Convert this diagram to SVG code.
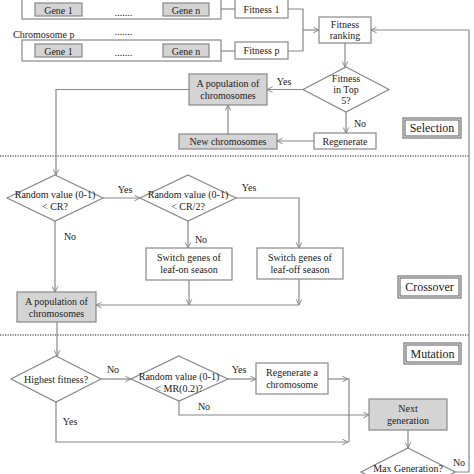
<svg xmlns="http://www.w3.org/2000/svg" width="474" height="474" viewBox="0 0 474 474">
<defs>
<marker id="ah" viewBox="0 0 10 10" refX="9" refY="5" markerWidth="7" markerHeight="7" orient="auto" markerUnits="userSpaceOnUse">
<polyline points="1,1 9,5 1,9" fill="none" stroke="#888" stroke-width="1.4"/>
</marker>
<style>
text{font-family:"Liberation Serif","Times New Roman",serif;font-size:10px;fill:#222;text-anchor:middle}
.box{fill:#fff;stroke:#888;stroke-width:1.2}
.gbox{fill:#d4d4d4;stroke:#888;stroke-width:1.2}
.ln{fill:none;stroke:#888;stroke-width:1.2}
.ar{fill:none;stroke:#888;stroke-width:1.2;marker-end:url(#ah)}
.dot{stroke:#666;stroke-width:1.6;stroke-dasharray:1.2 1.3}
.lab{fill:#fff;stroke:#555;stroke-width:1}
.big{font-size:12px}
.lt{text-anchor:start}
</style>
</defs>
<rect width="474" height="474" fill="#fff"/>

<g id="separators">
<line class="dot" x1="0" y1="156" x2="469" y2="156"/>
<line class="dot" x1="0" y1="335" x2="469" y2="335"/>
</g>

<g id="chromosome1">
<rect class="box" x="22" y="-10" width="199" height="29"/>
<rect class="gbox" x="35" y="3" width="47" height="13"/>
<text x="58.5" y="13.5">Gene 1</text>
<text x="123.5" y="16">.......</text>
<rect class="gbox" x="163" y="3" width="46" height="13"/>
<text x="186" y="13.5">Gene n</text>
</g>
<g id="chromosomep">
<text class="lt" x="13" y="38">Chromosome p</text>
<text x="123.5" y="35">.......</text>
<rect class="box" x="22" y="40" width="199" height="21"/>
<rect class="gbox" x="35" y="44" width="47" height="13"/>
<text x="58.5" y="54.5">Gene 1</text>
<text x="123.5" y="56">.......</text>
<rect class="gbox" x="163" y="44" width="46" height="13"/>
<text x="186" y="54.5">Gene n</text>
</g>
<g id="fitness1">
<rect class="box" x="235" y="-1" width="53" height="19"/>
<text x="261.5" y="13">Fitness 1</text>
</g>
<g id="fitnessp">
<rect class="box" x="235" y="42" width="53" height="17"/>
<text x="261.5" y="54">Fitness p</text>
</g>
<g id="ranking">
<rect class="box" x="319" y="17" width="52" height="26"/>
<text x="345" y="28">Fitness</text>
<text x="345" y="39">ranking</text>
</g>
<g id="top5">
<polygon class="box" points="346,67 389,89.5 346,112 303,89.5"/>
<text x="346" y="82">Fitness</text>
<text x="346" y="93">in Top</text>
<text x="346" y="104">5?</text>
</g>
<g id="pop1">
<rect class="gbox" x="189" y="74" width="78" height="31"/>
<text x="228" y="87">A population of</text>
<text x="228" y="99">chromosomes</text>
</g>
<g id="newchrom">
<rect class="gbox" x="179" y="134" width="98" height="15"/>
<text x="228" y="145">New chromosomes</text>
</g>
<g id="regenerate">
<rect class="box" x="314" y="133" width="62" height="16"/>
<text x="345" y="144.5">Regenerate</text>
</g>
<g id="selection">
<rect class="lab" x="403" y="118" width="58" height="20"/>
<rect class="lab" x="405" y="120" width="54" height="16"/>
<text class="big" x="432" y="132">Selection</text>
</g>

<g id="cr">
<polygon class="box" points="55,175 103,198 55,221 7,198"/>
<text x="55" y="198">Random value (0-1)</text>
<text x="55" y="210">&lt; CR?</text>
</g>
<g id="cr2">
<polygon class="box" points="188,175 236,198 188,221 140,198"/>
<text x="188" y="198">Random value (0-1)</text>
<text x="188" y="210">&lt; CR/2?</text>
</g>
<g id="leafon">
<rect class="box" x="146" y="248" width="86" height="32"/>
<text x="189" y="261">Switch genes of</text>
<text x="189" y="273">leaf-on season</text>
</g>
<g id="leafoff">
<rect class="box" x="257" y="248" width="86" height="31"/>
<text x="300" y="261">Switch genes of</text>
<text x="300" y="273">leaf-off season</text>
</g>
<g id="pop2">
<rect class="gbox" x="17" y="292" width="79" height="30"/>
<text x="56.5" y="305">A population of</text>
<text x="56.5" y="317">chromosomes</text>
</g>
<g id="crossover">
<rect class="lab" x="398" y="276" width="63" height="22"/>
<rect class="lab" x="400" y="278" width="59" height="18"/>
<text class="big" x="429.5" y="291">Crossover</text>
</g>

<g id="highest">
<polygon class="box" points="56,356 101,379 56,402 11,379"/>
<text x="56" y="383">Highest fitness?</text>
</g>
<g id="mr">
<polygon class="box" points="179,356 228,379 179,401 131,379"/>
<text x="179" y="380">Random value (0-1)</text>
<text x="179" y="392">&lt; MR(0.2)?</text>
</g>
<g id="regenchrom">
<rect class="box" x="256" y="363" width="72" height="31"/>
<text x="292" y="376">Regenerate a</text>
<text x="292" y="388">chromosome</text>
</g>
<g id="nextgen">
<rect class="gbox" x="369" y="399" width="78" height="31"/>
<text x="408" y="412">Next</text>
<text x="408" y="424">generation</text>
</g>
<g id="maxgen">
<polygon class="box" points="408,448 455,472 408,496 361,472"/>
<text x="408" y="472">Max Generation?</text>
</g>
<g id="mutation">
<rect class="lab" x="404" y="343" width="57" height="21"/>
<rect class="lab" x="406" y="345" width="53" height="17"/>
<text class="big" x="432.5" y="358">Mutation</text>
</g>

<g id="connectors">
<line class="ln" x1="221" y1="9" x2="235" y2="9"/>
<line class="ln" x1="221" y1="51" x2="235" y2="51"/>
<polyline class="ln" points="288,9 303,9 303,51 288,51"/>
<line class="ar" x1="303" y1="30" x2="319" y2="30"/>
<line class="ar" x1="345" y1="43" x2="345" y2="67"/>
<line class="ar" x1="303" y1="89.5" x2="267" y2="89.5"/>
<line class="ar" x1="346" y1="112" x2="346" y2="133"/>
<line class="ar" x1="314" y1="141" x2="277" y2="141"/>
<line class="ar" x1="228" y1="134" x2="228" y2="105"/>
<polyline class="ar" points="189,89.5 56,89.5 56,175"/>
<polyline class="ar" points="455,472 469,472 469,30 371,30"/>
<line class="ar" x1="103" y1="198" x2="140" y2="198"/>
<line class="ar" x1="188" y1="221" x2="188" y2="248"/>
<polyline class="ar" points="236,198 299,198 299,248"/>
<line class="ar" x1="189" y1="280" x2="189" y2="305"/>
<line class="ar" x1="299" y1="279" x2="299" y2="305"/>
<line class="ar" x1="299" y1="305" x2="96" y2="305"/>
<line class="ar" x1="55" y1="221" x2="55" y2="292"/>
<line class="ar" x1="57" y1="322" x2="57" y2="356"/>
<line class="ar" x1="101" y1="379" x2="131" y2="379"/>
<line class="ar" x1="228" y1="379" x2="256" y2="379"/>
<line class="ar" x1="328" y1="379" x2="348" y2="379"/>
<line class="ln" x1="349" y1="378" x2="349" y2="442"/>
<polyline class="ar" points="179,401 179,415 369,415"/>
<polyline class="ar" points="56,402 56,442 348,442"/>
<line class="ar" x1="408" y1="430" x2="408" y2="448"/>
<text x="284" y="85">Yes</text>
<text x="360" y="127">No</text>
<text x="125" y="193">Yes</text>
<text x="249" y="191">Yes</text>
<text x="201" y="243">No</text>
<text x="70" y="240">No</text>
<text x="113" y="373">No</text>
<text x="239" y="373">Yes</text>
<text x="204" y="410">No</text>
<text x="70" y="425">Yes</text>
<text x="459" y="466">No</text>
</g>
</svg>
